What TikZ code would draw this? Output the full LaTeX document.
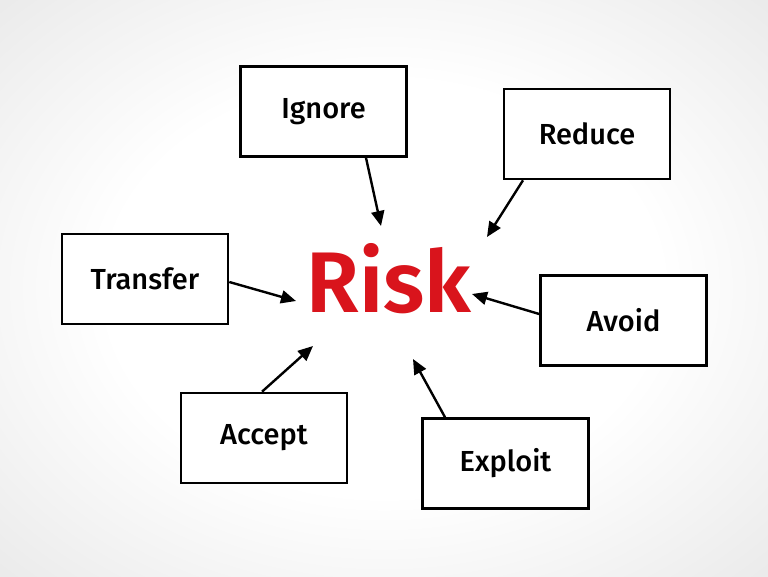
\documentclass[tikz,border=0pt]{standalone}
\usepackage{fontspec}
\setmainfont{Fira Sans Medium}
\newfontfamily\riskfont{Fira Sans SemiBold}
\usetikzlibrary{arrows.meta,calc}
\pgfdeclareradialshading{bgshade}{\pgfpoint{0bp}{0bp}}{color(0bp)=(white); color(18bp)=(white); color(44bp)=(black!12); color(71bp)=(black!21)}
\definecolor{riskred}{HTML}{D9141C}
\begin{document}
\begin{tikzpicture}[x=1pt,y=-1pt,
  box/.style={draw=black, line width=2.6pt, fill=white, minimum width=166pt, minimum height=90pt, inner sep=0pt, font=\fontsize{29}{29}\selectfont},
  arr/.style={line width=2.4pt, -{Triangle[length=15pt,width=13pt]}}]
\shade[shading=bgshade] (0,0) rectangle (768,576);
\useasboundingbox (0,0) rectangle (768,576);

\node[box] (ignore)   at (323.5,111.5) {Ignore};
\node[box] (reduce)   at (587,134)     {Reduce};
\node[box] (transfer) at (145,279)     {Transfer};
\node[box] (avoid)    at (623.5,320.5) {Avoid};
\node[box] (accept)   at (264,438)     {Accept};
\node[box] (exploit)  at (505.5,463.5) {Exploit};

\node[text=riskred, font=\riskfont\fontsize{86}{86}\selectfont, inner sep=0pt] (risk) at (389,279) {Risk};

\coordinate (t1) at (381,226);
\coordinate (t2) at (487,237);
\coordinate (t3) at (296,301);
\coordinate (t4) at (472,294);
\coordinate (t5) at (313,346);
\coordinate (t6) at (413,359);

\draw[arr] ($(ignore.south)+(42.5,0)$) -- (t1);
\draw[arr] ($(reduce.south)+(-64,0)$) -- (t2);
\draw[arr] ($(transfer.east)+(0,3)$) -- (t3);
\draw[arr] ($(avoid.west)+(0,-6.5)$) -- (t4);
\draw[arr] ($(accept.north)+(-2,0)$) -- (t5);
\draw[arr] ($(exploit.north)+(-60.5,0)$) -- (t6);
\end{tikzpicture}
\end{document}
